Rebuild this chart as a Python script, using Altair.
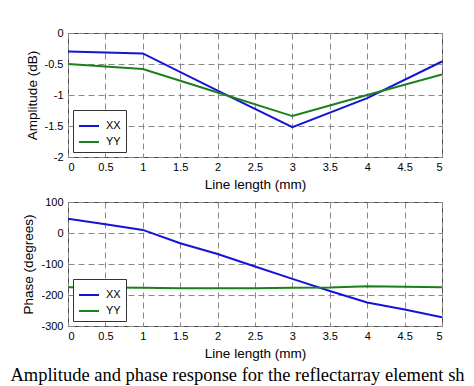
import altair as alt
import pandas as pd

series = ["XX", "YY"]
colors = ["#1414d6", "#1b7f1b"]

amp_x = [0, 1, 2, 3, 4, 5]
amp_xx = [-0.30, -0.33, -0.93, -1.52, -1.05, -0.46]
amp_yy = [-0.50, -0.58, -0.96, -1.34, -1.00, -0.67]

phase_x = [0, 0.5, 1, 1.5, 2, 2.5, 3, 3.5, 4, 4.5, 5]
phase_xx = [46, 28, 10, -33, -68, -108, -148, -187, -224, -247, -272]
phase_yy = [-175, -176, -177, -178, -178, -178, -177, -176, -172, -173, -175]

x_ticks = [0, 0.5, 1, 1.5, 2, 2.5, 3, 3.5, 4, 4.5, 5]
amp_ticks = [0, -0.5, -1, -1.5, -2]
phase_ticks = [100, 0, -100, -200, -300]

caption = "Amplitude and phase response for the reflectarray element sh"

amp_df = pd.DataFrame({
    "x": amp_x * 2,
    "y": amp_xx + amp_yy,
    "series": ["XX"] * len(amp_x) + ["YY"] * len(amp_x),
})
phase_df = pd.DataFrame({
    "x": phase_x * 2,
    "y": phase_xx + phase_yy,
    "series": ["XX"] * len(phase_x) + ["YY"] * len(phase_x),
})

W, H = 374, 124


def panel(df, ytitle, ydomain, yticks):
    return alt.Chart(df).mark_line(strokeWidth=2, clip=True).encode(
        x=alt.X("x:Q", scale=alt.Scale(domain=[0, 5], nice=False, zero=False),
                axis=alt.Axis(values=x_ticks, title="Line length (mm)",
                              labelExpr="'' + datum.value")),
        y=alt.Y("y:Q", scale=alt.Scale(domain=ydomain, nice=False, zero=False),
                axis=alt.Axis(values=yticks, title=ytitle,
                              labelExpr="'' + datum.value")),
        color=alt.Color("series:N",
                        scale=alt.Scale(domain=series, range=colors),
                        legend=alt.Legend(orient="bottom-left", offset=5, title=None,
                                          fillColor="white", strokeColor="#333",
                                          padding=5, symbolType="stroke",
                                          symbolStrokeWidth=2, symbolSize=400,
                                          labelFontSize=11, labelFont="Liberation Sans",
                                          rowPadding=-4, labelOffset=6,
                                          labelLimit=40, columnPadding=0)),
        order="x:Q",
    ).properties(width=W, height=H)


top = panel(amp_df, "Amplitude (dB)", [-2, 0], amp_ticks)
bottom = panel(phase_df, "Phase (degrees)", [-300, 100], phase_ticks)

chart = alt.vconcat(top, bottom, spacing=4).resolve_scale(
    color="independent"
).resolve_legend(
    color="independent"
).properties(
    title=alt.TitleParams(caption, orient="bottom", anchor="start", frame="bounds",
                          font="Liberation Serif", fontSize=18.5, fontWeight="normal",
                          color="black", offset=6, dx=-11),
    padding={"left": 2, "top": 18, "right": 0, "bottom": 0},
).configure_view(
    stroke="#444", strokeWidth=1
).configure_axis(
    domain=False, ticks=False, grid=True, gridColor="#888", gridDash=[6, 4],
    gridWidth=1, gridOpacity=1,
    labelFont="Liberation Sans", labelFontSize=11, labelColor="black", labelPadding=4,
    titleFont="Liberation Sans", titleFontSize=13.5, titleFontWeight="normal",
    titleColor="black", titlePadding=5,
).configure_axisY(labelPadding=5)

chart.save("out.html", embed_options={"renderer": "svg", "actions": False})
